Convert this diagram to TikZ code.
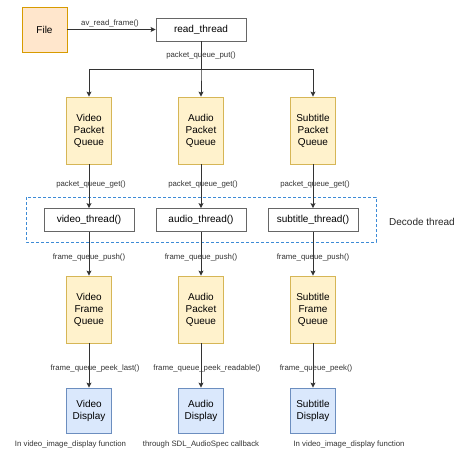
\documentclass[tikz,border=0pt]{standalone}
\usepackage{fontspec}
\setmainfont{Liberation Sans}
\usepackage{tikz}
\usetikzlibrary{arrows.meta,calc}
\definecolor{fileFill}{HTML}{FFE6CC}
\definecolor{fileLine}{HTML}{D79B00}
\definecolor{queueFill}{HTML}{FFF2CC}
\definecolor{queueLine}{HTML}{D6B656}
\definecolor{dispFill}{HTML}{DAE8FC}
\definecolor{dispLine}{HTML}{6C8EBF}
\definecolor{decLine}{HTML}{3D8BD6}
\begin{document}
\begin{tikzpicture}[x=1pt,y=-1pt,
  box/.style={draw,line width=0.8pt,inner sep=0pt,align=center,font=\fontsize{10}{12}\selectfont},
  qbox/.style={box,fill=queueFill,draw=queueLine,minimum width=45pt,minimum height=67pt},
  dbox/.style={box,fill=dispFill,draw=dispLine,minimum width=45pt,minimum height=45pt},
  tbox/.style={box,draw=black!60,fill=white,minimum width=90pt,minimum height=23pt},
  flow/.style={draw=black!80,line width=1pt,-{Stealth[length=5pt,width=5pt,inset=1pt]}},
  lbl/.style={font=\fontsize{7.8}{9}\selectfont,text=black!80,inner sep=0pt}]
\useasboundingbox (0,0) rectangle (474,451);
\newcommand{\Cols}{V/89/Video/video,A/201/Audio/audio,S/313/Subtitle/subtitle}

% source and reader
\node[box,fill=fileFill,draw=fileLine,minimum width=45pt,minimum height=45pt] (file) at (44.5,29.5) {File};
\node[tbox] (read) at (201,29.5) {read\_thread};
\draw[flow] (file) -- (read);
\node[lbl] (lread) at (110,23) {av\_read\_frame()};
\coordinate (bus) at (0,69);

% decode area
\draw[decLine,line width=0.9pt,dash pattern=on 3pt off 2pt] (26,197) rectangle (376,242);
\node[font=\fontsize{10}{12}\selectfont,text=black!85] (dec) at (422,222) {Decode thread};

\foreach \n/\x/\T/\t in \Cols{
  \node[qbox] (pq\n) at (\x,130.5) {\T\\Packet\\Queue};
  \node[tbox] (th\n) at (\x,220) {\t\_thread()};
  \draw[flow] (read.south) -- (read.south |- bus) -| (pq\n.north);
  \draw[flow] (pq\n) -- (th\n);
  \node[lbl] (lget\n) at (\x+2,184) {packet\_queue\_get()};
  \node[lbl] (lpush\n) at (\x,257) {frame\_queue\_push()};
  \node[dbox] (dp\n) at (\x,410.5) {\T\\Display};
}
\node[qbox] (fqV) at (89,309.5) {Video\\Frame\\Queue};
\node[qbox] (fqA) at (201,309.5) {Audio\\Packet\\Queue};
\node[qbox] (fqS) at (313,309.5) {Subtitle\\Frame\\Queue};
\foreach \n in {V,A,S}{
  \draw[flow] (th\n) -- (fq\n);
  \draw[flow] (fq\n) -- (dp\n);
}
\node[lbl] (lput) at (201,55) {packet\_queue\_put()};
\node[lbl] (lpeekV) at (95,368) {frame\_queue\_peek\_last()};
\node[lbl] (lpeekA) at (207,368) {frame\_queue\_peek\_readable()};
\node[lbl] (lpeekS) at (316,368) {frame\_queue\_peek()};
\node[lbl] (noteV) at (70.5,444) {In video\_image\_display function};
\node[lbl] (noteA) at (201,444) {through SDL\_AudioSpec callback};
\node[lbl] (noteS) at (349,444) {In video\_image\_display function};
\end{tikzpicture}
\end{document}
